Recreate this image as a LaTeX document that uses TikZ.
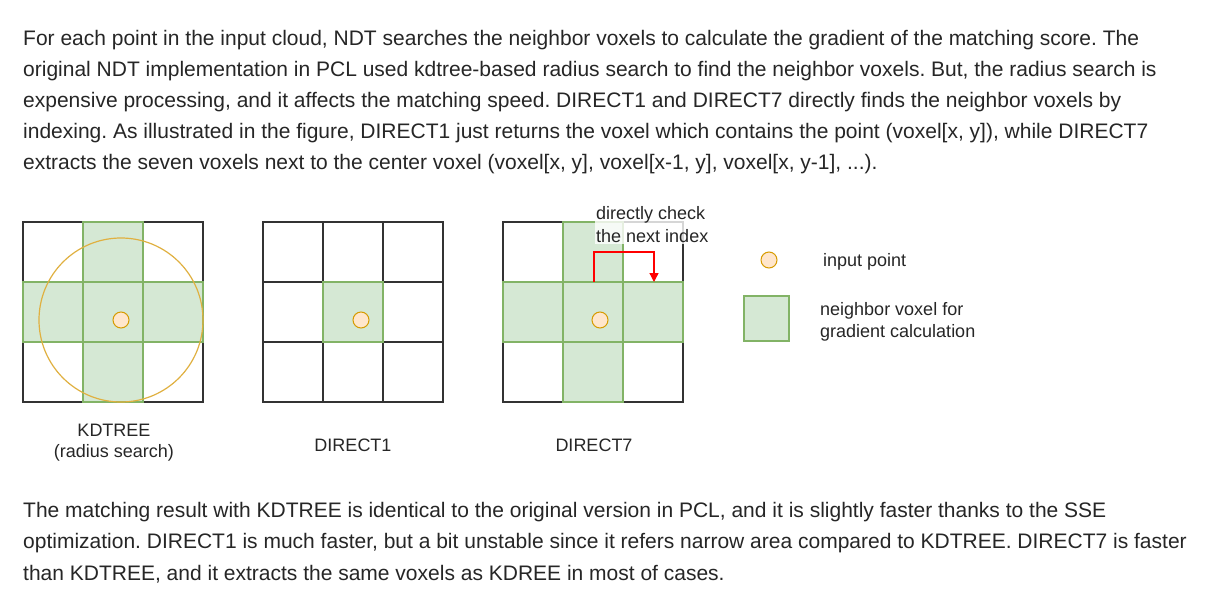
\documentclass[tikz,border=0pt]{standalone}
\usepackage{fontspec}
\setmainfont{Liberation Sans}
\usetikzlibrary{arrows.meta}
\definecolor{gstroke}{RGB}{130,179,102}
\definecolor{gfill}{RGB}{213,232,212}
\definecolor{ostroke}{RGB}{215,155,0}
\definecolor{ofill}{RGB}{255,230,204}
\definecolor{rcircle}{RGB}{224,176,64}
\frenchspacing
\begin{document}
\begin{tikzpicture}[x=1pt,y=-1pt,
  para/.style={anchor=west,inner sep=0pt,font=\fontsize{21}{23}\selectfont,text=black!85},
  lab/.style={inner sep=0pt,font=\fontsize{18}{21}\selectfont,text=black!85,align=center},
  cell/.style={draw=black!80,line width=1.2pt,fill=white},
  gcell/.style={draw=gstroke,fill=gfill,line width=1.2pt},
  pt/.style={circle,draw=ostroke,fill=ofill,line width=1pt,minimum size=16pt,inner sep=0pt}]
\useasboundingbox (0,0) rectangle (1207,608);
\fill[white] (0,0) rectangle (1207,608);
\node[para] (l1) at (23,40) {For each point in the input cloud, NDT searches the neighbor voxels to calculate the gradient of the matching score. The};
\node[para] (l2) at (23,71) {original NDT implementation in PCL used kdtree-based radius search to find the neighbor voxels. But, the radius search is};
\node[para] (l3) at (23,102) {expensive processing, and it affects the matching speed. DIRECT1 and DIRECT7 directly finds the neighbor voxels by};
\node[para] (l4) at (23,133) {indexing. As illustrated in the figure, DIRECT1 just returns the voxel which contains the point (voxel[x, y]), while DIRECT7};
\node[para] (l5) at (23,164) {extracts the seven voxels next to the center voxel (voxel[x, y], voxel[x-1, y], voxel[x, y-1], ...).};
\node[para] (m1) at (23,512) {The matching result with KDTREE is identical to the original version in PCL, and it is slightly faster thanks to the SSE};
\node[para] (m2) at (23,543) {optimization. DIRECT1 is much faster, but a bit unstable since it refers narrow area compared to KDTREE. DIRECT7 is faster};
\node[para] (m3) at (23,574) {than KDTREE, and it extracts the same voxels as KDREE in most of cases.};
% grids
\foreach \gx in {23,263,503}{
  \foreach \i in {0,1,2}{\foreach \j in {0,1,2}{
    \draw[cell] (\gx+60*\i,222+60*\j) rectangle ++(60,60);}}
}
\foreach \i/\j in {1/0,0/1,1/1,2/1,1/2}{\draw[gcell] (23+60*\i,222+60*\j) rectangle ++(60,60);}
\draw[gcell] (323,282) rectangle ++(60,60);
\foreach \i/\j in {1/0,0/1,1/1,2/1,1/2}{\draw[gcell] (503+60*\i,222+60*\j) rectangle ++(60,60);}
\node[pt] (p1) at (121,320) {};
\draw[rcircle,line width=1.2pt] (p1) circle[radius=82];
\node[pt] (p2) at (361,320) {};
\node[pt] (p3) at (600,320) {};
% red arrow
\coordinate (a0) at (594,282);
\coordinate (a1) at (654,282);
\draw[red,line width=1.3pt,-{Triangle[length=9pt,width=9pt]}] (a0) |- (654,252) -- (a1);
\node[lab,anchor=west,fill=white,fill opacity=0.8,text opacity=1,align=left,inner sep=1pt,font=\fontsize{18}{23}\selectfont] (dc) at (595,225) {directly check\\the next index};
% labels
\node[lab] (k) at (114,443) {KDTREE\\(radius search)};
\node[lab] (d1) at (353,445) {DIRECT1};
\node[lab] (d7) at (594,445) {DIRECT7};
% legend
\node[pt] (lp) at (769,260) {};
\node[lab,anchor=west] (lpt) at (823,262) {input point};
\draw[gcell] (744,296) rectangle (789,341);
\node[lab,anchor=west,align=left,font=\fontsize{18}{22}\selectfont] (lgt) at (820,322) {neighbor voxel for\\gradient calculation};
\end{tikzpicture}
\end{document}
